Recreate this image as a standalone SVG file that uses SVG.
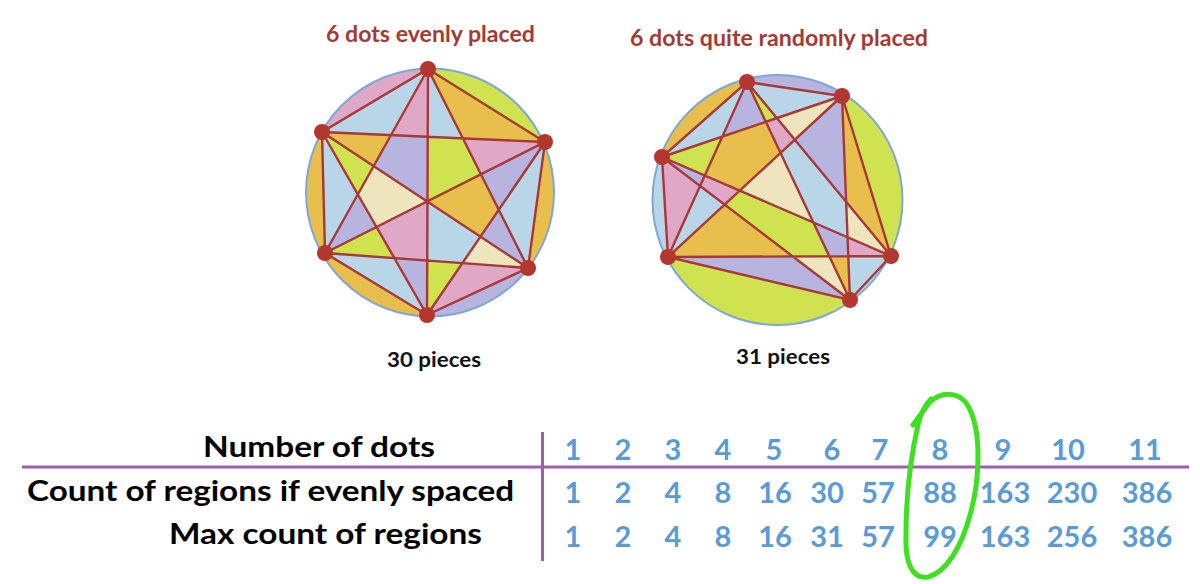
<svg xmlns="http://www.w3.org/2000/svg" width="1200" height="584" viewBox="0 0 1200 584">
<defs>
<style>
.pk{fill:#dfa8c6}
.lb{fill:#b9d6e8}
.lv{fill:#b8b4e0}
.yg{fill:#cfe24f}
.or{fill:#e8bf4c}
.cr{fill:#eee4be}
.ch{stroke:#a83838;stroke-width:2.4;fill:none;stroke-linecap:round}
.ring{fill:none;stroke:#7ea7d6;stroke-width:2}
.dot{fill:#b3372e}
.title{font-family:Lato,'Open Sans','Liberation Sans',sans-serif;font-weight:bold;font-size:23px;fill:#a33b32}
.cap{font-family:Lato,'Open Sans','Liberation Sans',sans-serif;font-weight:bold;font-size:21px;fill:#111}
.lab{font-family:Lato,'Open Sans','Liberation Sans',sans-serif;font-weight:bold;font-size:29px;fill:#000}
.num{font-family:Lato,'Open Sans','Liberation Sans',sans-serif;font-weight:bold;font-size:29px;fill:#5b9bd5;text-anchor:middle}
.rule{stroke:#9d5fb3;stroke-width:3;fill:none}
</style>
<clipPath id="clipL"><circle cx="430" cy="192.5" r="124"/></clipPath>
<clipPath id="clipR"><circle cx="777.5" cy="200" r="125"/></clipPath>
</defs>
<rect width="1200" height="584" fill="#fff"/>

<text class="title" x="326" y="42" textLength="209" lengthAdjust="spacingAndGlyphs">6 dots evenly placed</text>
<text class="title" x="630" y="46" textLength="298" lengthAdjust="spacingAndGlyphs">6 dots quite randomly placed</text>

<g id="circle-even">
<g clip-path="url(#clipL)">
<polygon class="yg" points="428,69 426,-54.5 660,91.5 545,142"/>
<polygon class="or" points="545,142 660,91.5 626,343.5 528,268"/>
<polygon class="lv" points="528,268 626,343.5 424,437.5 427,315"/>
<polygon class="or" points="427,315 424,437.5 220,313.5 325,253"/>
<polygon class="or" points="325,253 220,313.5 214,71.5 322,132"/>
<polygon class="pk" points="322,132 214,71.5 426,-54.5 428,69"/>
</g>
<polygon class="or" points="428,69 545,142 462.8,138.3"/>
<polygon class="lb" points="545,142 528,268 498.8,209.8"/>
<polygon class="pk" points="528,268 427,315 462.4,263.2"/>
<polygon class="lb" points="427,315 325,253 394.4,258.1"/>
<polygon class="lb" points="325,253 322,132 357.8,194.4"/>
<polygon class="lb" points="322,132 428,69 391,135.1"/>
<polygon class="lb" points="428,69 462.8,138.3 427.7,136.7"/>
<polygon class="pk" points="428,69 427.7,136.7 391,135.1"/>
<polygon class="pk" points="545,142 462.8,138.3 480.9,174.3"/>
<polygon class="lv" points="545,142 480.9,174.3 498.8,209.8"/>
<polygon class="lv" points="528,268 498.8,209.8 480.5,236.6"/>
<polygon class="cr" points="528,268 480.5,236.6 462.4,263.2"/>
<polygon class="yg" points="427,315 462.4,263.2 427.3,260.6"/>
<polygon class="lv" points="427,315 427.3,260.6 394.4,258.1"/>
<polygon class="yg" points="325,253 394.4,258.1 376.5,227"/>
<polygon class="lv" points="325,253 376.5,227 357.8,194.4"/>
<polygon class="yg" points="322,132 357.8,194.4 373.6,166.1"/>
<polygon class="or" points="322,132 373.6,166.1 391,135.1"/>
<polygon class="yg" points="427.7,136.7 462.8,138.3 480.9,174.3 427.5,201.5"/>
<polygon class="lv" points="427.7,136.7 427.5,201.5 373.6,166.1 391,135.1"/>
<polygon class="or" points="480.9,174.3 498.8,209.8 480.5,236.6 427.5,201.5"/>
<polygon class="lb" points="427.5,201.5 480.5,236.6 462.4,263.2 427.3,260.6"/>
<polygon class="pk" points="427.5,201.5 427.3,260.6 394.4,258.1 376.5,227"/>
<polygon class="cr" points="427.5,201.5 376.5,227 357.8,194.4 373.6,166.1"/>
<circle class="ring" cx="430" cy="192.5" r="124"/>
<path class="ch" d="M428,69L545,142L528,268L427,315L325,253L322,132Z M428,69L528,268 M428,69L427,315 M428,69L325,253 M545,142L427,315 M545,142L325,253 M545,142L322,132 M528,268L325,253 M528,268L322,132 M427,315L322,132"/>
<circle class="dot" cx="428" cy="69" r="8"/>
<circle class="dot" cx="545" cy="142" r="8"/>
<circle class="dot" cx="528" cy="268" r="8"/>
<circle class="dot" cx="427" cy="315" r="8"/>
<circle class="dot" cx="325" cy="253" r="8"/>
<circle class="dot" cx="322" cy="132" r="8"/>
</g>

<g id="circle-random">
<g clip-path="url(#clipR)">
<polygon class="lv" points="747,82 716.5,-36 906.5,-8 842,96"/>
<polygon class="yg" points="842,96 906.5,-8 1004.5,312 891,256"/>
<polygon class="lb" points="891,256 1004.5,312 922.5,400 850,300"/>
<polygon class="yg" points="850,300 922.5,400 558.5,314 668,257"/>
<polygon class="lb" points="668,257 558.5,314 546.5,114 662,157"/>
<polygon class="or" points="662,157 546.5,114 716.5,-36 747,82"/>
</g>
<polygon class="lb" points="747,82 842,96 776.9,118.1"/>
<polygon class="or" points="842,96 891,256 846.1,201.8"/>
<polygon class="lb" points="891,256 850,300 848.3,256.2"/>
<polygon class="lv" points="850,300 668,257 792.7,256.4"/>
<polygon class="pk" points="668,257 662,157 700.1,186"/>
<polygon class="lb" points="662,157 747,82 722.4,136.5"/>
<polygon class="yg" points="747,82 776.9,118.1 765.8,121.8"/>
<polygon class="lv" points="747,82 765.8,121.8 722.4,136.5"/>
<polygon class="cr" points="842,96 776.9,118.1 794.8,139.7"/>
<polygon class="lv" points="842,96 794.8,139.7 846.1,201.8"/>
<polygon class="cr" points="891,256 846.1,201.8 847.5,237.2"/>
<polygon class="pk" points="891,256 847.5,237.2 848.3,256.2"/>
<polygon class="or" points="850,300 848.3,256.2 829.3,256.3"/>
<polygon class="cr" points="850,300 829.3,256.3 792.7,256.4"/>
<polygon class="or" points="668,257 792.7,256.4 724.6,204.6"/>
<polygon class="lb" points="668,257 724.6,204.6 700.1,186"/>
<polygon class="lv" points="662,157 700.1,186 704.8,175.5"/>
<polygon class="yg" points="662,157 704.8,175.5 722.4,136.5"/>
<polygon class="pk" points="765.8,121.8 776.9,118.1 794.8,139.7 780.5,152.9"/>
<polygon class="or" points="722.4,136.5 765.8,121.8 780.5,152.9 739.8,190.6 704.8,175.5"/>
<polygon class="lb" points="794.8,139.7 846.1,201.8 847.5,237.2 813.3,222.4 780.5,152.9"/>
<polygon class="lv" points="847.5,237.2 848.3,256.2 829.3,256.3 813.3,222.4"/>
<polygon class="yg" points="813.3,222.4 829.3,256.3 792.7,256.4 724.6,204.6 739.8,190.6"/>
<polygon class="pk" points="739.8,190.6 724.6,204.6 700.1,186 704.8,175.5"/>
<polygon class="cr" points="780.5,152.9 813.3,222.4 739.8,190.6"/>
<circle class="ring" cx="777.5" cy="200" r="125"/>
<path class="ch" d="M747,82L842,96L891,256L850,300L668,257L662,157Z M747,82L891,256 M747,82L850,300 M747,82L668,257 M842,96L850,300 M842,96L668,257 M842,96L662,157 M891,256L668,257 M891,256L662,157 M850,300L662,157"/>
<circle class="dot" cx="747" cy="82" r="8"/>
<circle class="dot" cx="842" cy="96" r="8"/>
<circle class="dot" cx="891" cy="256" r="8"/>
<circle class="dot" cx="850" cy="300" r="8"/>
<circle class="dot" cx="668" cy="257" r="8"/>
<circle class="dot" cx="662" cy="157" r="8"/>
</g>

<text class="cap" x="387" y="367" textLength="94" lengthAdjust="spacingAndGlyphs">30 pieces</text>
<text class="cap" x="736" y="364" textLength="94" lengthAdjust="spacingAndGlyphs">31 pieces</text>

<g id="table">
<line class="rule" x1="22" y1="467" x2="1189" y2="467"/>
<line class="rule" x1="542.5" y1="432" x2="542.5" y2="561"/>
<text class="lab" x="203" y="457" textLength="232" lengthAdjust="spacingAndGlyphs">Number of dots</text>
<text class="lab" x="27" y="501" textLength="487" lengthAdjust="spacingAndGlyphs">Count of regions if evenly spaced</text>
<text class="lab" x="169" y="544" textLength="313" lengthAdjust="spacingAndGlyphs">Max count of regions</text>
<g id="row-dots">
<text class="num" x="573" y="460">1</text>
<text class="num" x="623" y="460">2</text>
<text class="num" x="673" y="460">3</text>
<text class="num" x="723" y="460">4</text>
<text class="num" x="774" y="460">5</text>
<text class="num" x="832" y="460">6</text>
<text class="num" x="880" y="460">7</text>
<text class="num" x="940" y="460">8</text>
<text class="num" x="1003" y="460">9</text>
<text class="num" x="1068" y="460">10</text>
<text class="num" x="1145" y="460">11</text>
</g>
<g id="row-even">
<text class="num" x="573" y="503">1</text>
<text class="num" x="623" y="503">2</text>
<text class="num" x="673" y="503">4</text>
<text class="num" x="723" y="503">8</text>
<text class="num" x="775" y="503">16</text>
<text class="num" x="827" y="503">30</text>
<text class="num" x="878" y="503">57</text>
<text class="num" x="940" y="503">88</text>
<text class="num" x="1005" y="503">163</text>
<text class="num" x="1072" y="503">230</text>
<text class="num" x="1147" y="503">386</text>
</g>
<g id="row-max">
<text class="num" x="573" y="547">1</text>
<text class="num" x="623" y="547">2</text>
<text class="num" x="673" y="547">4</text>
<text class="num" x="723" y="547">8</text>
<text class="num" x="775" y="547">16</text>
<text class="num" x="827" y="547">31</text>
<text class="num" x="878" y="547">57</text>
<text class="num" x="940" y="547">99</text>
<text class="num" x="1005" y="547">163</text>
<text class="num" x="1072" y="547">256</text>
<text class="num" x="1147" y="547">386</text>
</g>
</g>

<g id="highlight">
<path d="M913,425 L929,403 C940,392 959,390 968,406 C982,430 980,480 970,515 C962,545 947,572 928,577 C911,580 905,560 906,535 C906,500 910,460 918,425 C921,412 925,405 931,399" fill="none" stroke="#3fe021" stroke-width="5" stroke-linecap="round" stroke-linejoin="round"/>
</g>
</svg>
